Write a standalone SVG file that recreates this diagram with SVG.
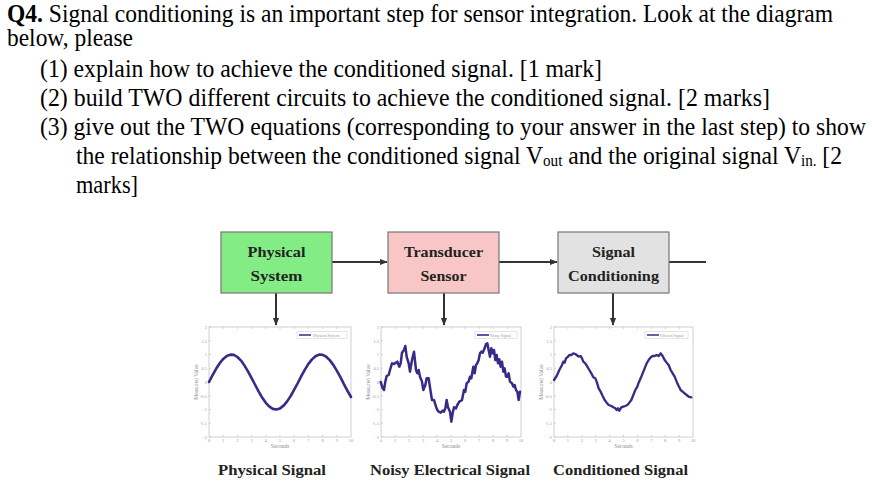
<svg xmlns="http://www.w3.org/2000/svg" width="872" height="484" viewBox="0 0 872 484">
<style>
.q{font-family:"Liberation Serif","Times New Roman",serif;font-size:25px;fill:#000}
.bl{font-family:"Liberation Serif","Times New Roman",serif;font-size:15px;font-weight:bold;fill:#222;text-anchor:middle}
.box{stroke:#777;stroke-width:1.2}
.conn{stroke:#333;stroke-width:2;fill:none}
.frame{fill:#fff;stroke:#c4c4c4;stroke-width:0.8}
.tick{stroke:#bbb;stroke-width:0.6}
.tl{font-family:"Liberation Serif",serif;font-size:4.5px;fill:#999}
.ax{font-family:"Liberation Serif",serif;font-size:5.5px;fill:#888;text-anchor:middle}
.lg{font-family:"Liberation Serif",serif;font-size:4px;fill:#999}
.sig{fill:none;stroke:#3a2a88;stroke-linejoin:round;stroke-linecap:round}
</style>
<defs>
<marker id="ah" viewBox="0 0 10 10" refX="9" refY="5" markerWidth="4" markerHeight="4" orient="auto">
<path d="M0,1 L10,5 L0,9 z" fill="#333"/>
</marker>
</defs>

<g id="question">
<text class="q" x="7" y="22" textLength="826" lengthAdjust="spacingAndGlyphs"><tspan font-weight="bold">Q4.</tspan> Signal conditioning is an important step for sensor integration. Look at the diagram</text>
<text class="q" x="7" y="46" textLength="126" lengthAdjust="spacingAndGlyphs">below, please</text>
<text class="q" x="40" y="77" textLength="562" lengthAdjust="spacingAndGlyphs">(1) explain how to achieve the conditioned signal. [1 mark]</text>
<text class="q" x="40" y="106" textLength="730" lengthAdjust="spacingAndGlyphs">(2) build TWO different circuits to achieve the conditioned signal. [2 marks]</text>
<text class="q" x="40" y="135" textLength="826" lengthAdjust="spacingAndGlyphs">(3) give out the TWO equations (corresponding to your answer in the last step) to show</text>
<text class="q" x="76" y="164" textLength="766" lengthAdjust="spacingAndGlyphs">the relationship between the conditioned signal V<tspan font-size="16" dy="2">out</tspan><tspan dy="-2"> and the original signal V</tspan><tspan font-size="16" dy="2">in.</tspan><tspan dy="-2"> [2</tspan></text>
<text class="q" x="76" y="193" textLength="62" lengthAdjust="spacingAndGlyphs">marks]</text>
</g>

<g id="connectors">
<line class="conn" x1="332" y1="262" x2="387" y2="262" marker-end="url(#ah)"/>
<line class="conn" x1="499" y1="262" x2="557" y2="262" marker-end="url(#ah)"/>
<line class="conn" x1="669" y1="262" x2="706" y2="262"/>
<line class="conn" x1="276" y1="293" x2="276" y2="325" marker-end="url(#ah)"/>
<line class="conn" x1="444" y1="293" x2="444" y2="325" marker-end="url(#ah)"/>
<line class="conn" x1="613" y1="293" x2="613" y2="325" marker-end="url(#ah)"/>
</g>

<g id="physical-system">
<rect class="box" x="221" y="232" width="111" height="61" fill="#84ec84"/>
<text class="bl" x="276.5" y="257" textLength="58" lengthAdjust="spacingAndGlyphs">Physical</text>
<text class="bl" x="276.5" y="281" textLength="52" lengthAdjust="spacingAndGlyphs">System</text>
</g>
<g id="transducer-sensor">
<rect class="box" x="388" y="232" width="111" height="61" fill="#f8c6c6"/>
<text class="bl" x="443.5" y="257" textLength="79" lengthAdjust="spacingAndGlyphs">Transducer</text>
<text class="bl" x="443.5" y="281" textLength="46" lengthAdjust="spacingAndGlyphs">Sensor</text>
</g>
<g id="signal-conditioning">
<rect class="box" x="558" y="232" width="111" height="61" fill="#e2e2e2"/>
<text class="bl" x="613.5" y="257" textLength="43" lengthAdjust="spacingAndGlyphs">Signal</text>
<text class="bl" x="613.5" y="281" textLength="91" lengthAdjust="spacingAndGlyphs">Conditioning</text>
</g>

<!-- Plot 1 -->
<g id="plot-physical">
<rect class="frame" x="209" y="327" width="142" height="110"/>
<path class="tick" d="M209,327h2M209,340.75h2M209,354.5h2M209,368.25h2M209,382h2M209,395.75h2M209,409.5h2M209,423.25h2M209,437h2
M223.2,437v-2M237.4,437v-2M251.6,437v-2M265.8,437v-2M280,437v-2M294.2,437v-2M308.4,437v-2M322.6,437v-2M336.8,437v-2
M223.2,327v2M237.4,327v2M251.6,327v2M265.8,327v2M280,327v2M294.2,327v2M308.4,327v2M322.6,327v2M336.8,327v2"/>
<g class="tl" text-anchor="end">
<text x="207" y="329">2</text><text x="207" y="342.5">1.5</text><text x="207" y="356">1</text><text x="207" y="370">0.5</text><text x="207" y="383.5">0</text><text x="207" y="397.5">-0.5</text><text x="207" y="411">-1</text><text x="207" y="425">-1.5</text><text x="207" y="438.5">-2</text>
</g>
<g class="tl" text-anchor="middle">
<text x="209" y="442">0</text><text x="223.2" y="442">1</text><text x="237.4" y="442">2</text><text x="251.6" y="442">3</text><text x="265.8" y="442">4</text><text x="280" y="442">5</text><text x="294.2" y="442">6</text><text x="308.4" y="442">7</text><text x="322.6" y="442">8</text><text x="336.8" y="442">9</text><text x="351" y="442">10</text>
</g>
<text class="ax" x="280" y="448">Seconds</text>
<text class="ax" transform="translate(198,382) rotate(-90)">Measured Value</text>
<rect x="297" y="331.5" width="50" height="7" fill="#fff" stroke="#ccc" stroke-width="0.5"/>
<line x1="299" y1="335" x2="311" y2="335" stroke="#3a2a88" stroke-width="1.5"/>
<text class="lg" x="313" y="336.5">Physical System</text>
<polyline class="sig" stroke-width="2.6" points="209,382 212.6,375.2 216.1,368.8 219.7,363.3 223.2,358.9 226.8,356 230.3,354.6 233.9,354.9 237.4,357 241,360.6 244.5,365.6 248.1,371.6 251.6,378.1 255.2,385 258.7,391.7 262.3,397.8 265.8,402.8 269.4,406.6 272.9,408.9 276.5,409.5 280,408.4 283.6,405.6 287.1,401.4 290.7,396 294.2,389.7 297.8,383 301.3,376.1 304.9,369.6 308.4,363.9 312,359.4 315.5,356.2 319.1,354.6 322.6,354.8 326.2,356.7 329.7,360.1 333.3,364.9 336.8,370.7 340.4,377.2 343.9,384.1 347.5,390.8 351,397"/>
</g>

<!-- Plot 2 -->
<g id="plot-noisy">
<rect class="frame" x="381" y="327" width="140" height="110"/>
<path class="tick" d="M381,327h2M381,340.75h2M381,354.5h2M381,368.25h2M381,382h2M381,395.75h2M381,409.5h2M381,423.25h2M381,437h2
M395,437v-2M409,437v-2M423,437v-2M437,437v-2M451,437v-2M465,437v-2M479,437v-2M493,437v-2M507,437v-2
M395,327v2M409,327v2M423,327v2M437,327v2M451,327v2M465,327v2M479,327v2M493,327v2M507,327v2"/>
<g class="tl" text-anchor="end">
<text x="379" y="329">2</text><text x="379" y="342.5">1.5</text><text x="379" y="356">1</text><text x="379" y="370">0.5</text><text x="379" y="383.5">0</text><text x="379" y="397.5">-0.5</text><text x="379" y="411">-1</text><text x="379" y="425">-1.5</text><text x="379" y="438.5">-2</text>
</g>
<g class="tl" text-anchor="middle">
<text x="381" y="442">0</text><text x="395" y="442">1</text><text x="409" y="442">2</text><text x="423" y="442">3</text><text x="437" y="442">4</text><text x="451" y="442">5</text><text x="465" y="442">6</text><text x="479" y="442">7</text><text x="493" y="442">8</text><text x="507" y="442">9</text><text x="521" y="442">10</text>
</g>
<text class="ax" x="451" y="448">Seconds</text>
<text class="ax" transform="translate(370,382) rotate(-90)">Measured Value</text>
<rect x="475" y="331.5" width="42" height="7" fill="#fff" stroke="#ccc" stroke-width="0.5"/>
<line x1="477" y1="335" x2="489" y2="335" stroke="#2a1a8a" stroke-width="1.5"/>
<text class="lg" x="490" y="336.5">Noisy Signal</text>
<polyline class="sig" stroke="#2a1a8a" stroke-width="7.5" transform="translate(360,320) scale(0.3333)" points="62,186 68,205 72,210 76,185 80,168 86,165 90,150 96,130 102,132 108,128 112,125 118,140 122,130 126,98 132,90 136,78 140,110 146,130 150,155 156,120 162,95 168,150 172,160 176,150 180,170 186,185 190,210 196,195 200,175 206,175 212,215 216,240 222,240 228,260 232,270 236,275 242,278 248,272 252,275 256,265 260,240 264,262 270,275 274,305 278,280 282,262 288,265 292,255 298,245 302,243 306,240 312,210 316,215 320,190 326,185 330,170 334,175 340,140 344,160 348,135 352,130 356,120 360,100 364,95 368,98 374,85 378,72 382,70 386,90 390,110 394,85 398,100 402,90 406,120 410,105 414,130 418,118 422,140 426,125 430,155 434,145 438,170 442,170 446,160 450,185 456,190 460,200 464,195 468,210 472,215 476,240 480,215"/>
</g>

<!-- Plot 3 -->
<g id="plot-filtered">
<rect class="frame" x="554" y="327" width="139" height="110"/>
<path class="tick" d="M554,327h2M554,340.75h2M554,354.5h2M554,368.25h2M554,382h2M554,395.75h2M554,409.5h2M554,423.25h2M554,437h2
M567.9,437v-2M581.8,437v-2M595.7,437v-2M609.6,437v-2M623.5,437v-2M637.4,437v-2M651.3,437v-2M665.2,437v-2M679.1,437v-2
M567.9,327v2M581.8,327v2M595.7,327v2M609.6,327v2M623.5,327v2M637.4,327v2M651.3,327v2M665.2,327v2M679.1,327v2"/>
<g class="tl" text-anchor="end">
<text x="552" y="329">2</text><text x="552" y="342.5">1.5</text><text x="552" y="356">1</text><text x="552" y="370">0.5</text><text x="552" y="383.5">0</text><text x="552" y="397.5">-0.5</text><text x="552" y="411">-1</text><text x="552" y="425">-1.5</text><text x="552" y="438.5">-2</text>
</g>
<g class="tl" text-anchor="middle">
<text x="554" y="442">0</text><text x="567.9" y="442">1</text><text x="581.8" y="442">2</text><text x="595.7" y="442">3</text><text x="609.6" y="442">4</text><text x="623.5" y="442">5</text><text x="637.4" y="442">6</text><text x="651.3" y="442">7</text><text x="665.2" y="442">8</text><text x="679.1" y="442">9</text><text x="693" y="442">10</text>
</g>
<text class="ax" x="623.5" y="448">Seconds</text>
<text class="ax" transform="translate(543,382) rotate(-90)">Measured Value</text>
<rect x="645" y="331.5" width="43" height="7" fill="#fff" stroke="#ccc" stroke-width="0.5"/>
<line x1="647" y1="335" x2="659" y2="335" stroke="#3a2a88" stroke-width="1.5"/>
<text class="lg" x="660" y="336.5">Filtered Signal</text>
<polyline class="sig" stroke-width="7" transform="translate(530,320) scale(0.3333)" points="72,180 80,168 88,150 96,135 100,125 104,128 108,115 114,110 118,105 124,105 130,100 136,102 140,105 146,110 152,108 156,115 160,125 166,130 172,140 178,150 184,160 190,172 196,175 200,185 206,205 212,215 218,228 224,240 230,248 236,255 244,258 250,262 256,265 260,270 264,265 268,272 274,262 280,260 286,258 292,255 298,248 304,240 310,225 316,210 322,200 326,188 332,175 338,160 344,145 350,130 356,120 362,112 368,108 374,108 380,105 386,108 392,100 398,108 404,120 410,128 416,135 422,150 428,160 434,170 440,185 446,198 452,210 458,215 464,220 470,225 476,230 484,232"/>
</g>

<g id="captions">
<text class="bl" x="272" y="475" textLength="108" lengthAdjust="spacingAndGlyphs">Physical Signal</text>
<text class="bl" x="450" y="475" textLength="160" lengthAdjust="spacingAndGlyphs">Noisy Electrical Signal</text>
<text class="bl" x="620.5" y="475" textLength="135" lengthAdjust="spacingAndGlyphs">Conditioned Signal</text>
</g>
</svg>
